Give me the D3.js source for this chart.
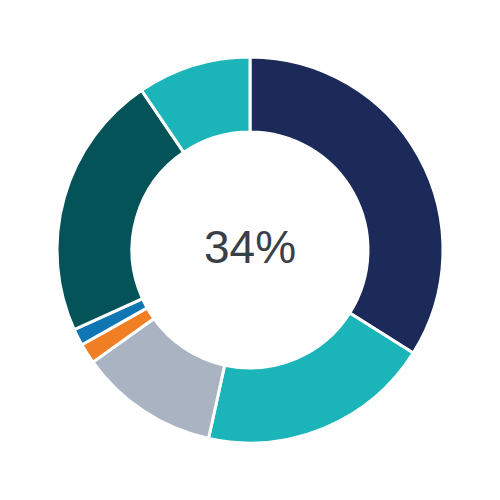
<!DOCTYPE html>
<html>
<head>
<meta charset="utf-8">
<script src="https://cdn.jsdelivr.net/npm/d3@7"></script>
<style>
  body { margin: 0; background: #fff; }
</style>
</head>
<body>
<div id="chart"></div>
<script>
// slice shares, clockwise from 12 o'clock
const labels = ['A', 'B', 'C', 'D', 'E', 'F', 'G'];
const values = [34, 19.5, 11.7, 1.7, 1.4, 22.3, 9.5];
const colors = ['#1c2a5a', '#1bb5b9', '#a9b3c2', '#ef7f22', '#0f76b3', '#045358', '#1bb5b9'];
const centerLabel = '34%';

const width = 500, height = 500;
const outerR = 193, innerR = 118;

const svg = d3.select('#chart').append('svg')
    .attr('width', width)
    .attr('height', height);

const g = svg.append('g').attr('transform', `translate(${width / 2},${height / 2})`);

const pie = d3.pie().sort(null).value(d => d.value);
const arc = d3.arc().innerRadius(innerR).outerRadius(outerR);

const data = labels.map((l, i) => ({label: l, value: values[i], color: colors[i]}));

g.selectAll('path')
    .data(pie(data))
  .join('path')
    .attr('d', arc)
    .attr('fill', d => d.data.color)
    .attr('stroke', '#fff')
    .attr('stroke-width', 3);

g.append('text')
    .attr('text-anchor', 'middle')
    .attr('y', 13)
    .attr('font-family', 'Liberation Sans, Arial, sans-serif')
    .attr('font-size', 46)
    .attr('fill', '#3a3e48')
    .text(centerLabel);
</script>
</body>
</html>
